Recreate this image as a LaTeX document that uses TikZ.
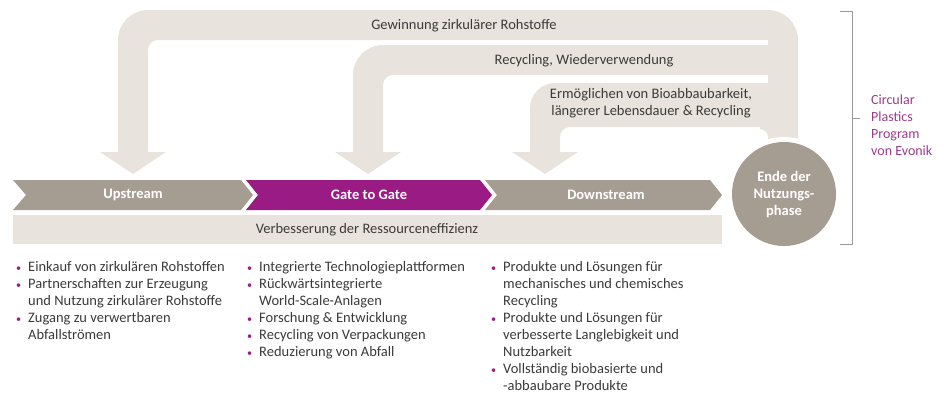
\documentclass[tikz,border=0pt]{standalone}
\usepackage{fontspec}
\setmainfont{Carlito}
\definecolor{beige}{HTML}{E8E4DD}
\definecolor{taupe}{HTML}{A69D92}
\definecolor{evpurple}{HTML}{9A1B83}
\definecolor{txt}{HTML}{3A3A3A}
\definecolor{ptxt}{HTML}{9A3A8C}
\definecolor{brk}{HTML}{9A9A9A}
\newcommand{\bl}{\makebox[12pt][l]{\textcolor{evpurple}{\raisebox{0.5pt}{\scalebox{0.7}{\textbullet}}}}}
\newcommand{\ind}{\makebox[12pt][l]{}}
\begin{document}
\begin{tikzpicture}[x=1pt,y=-1pt,
  band/.style={fill=beige},
  chev/.style={fill=taupe},
  chevlab/.style={text=white,font=\fontsize{14.5}{17}\selectfont\bfseries,anchor=center},
  lab/.style={text=txt,font=\fontsize{14.5}{16}\selectfont,anchor=center},
  list/.style={text=txt,font=\fontsize{14.5}{17}\selectfont,anchor=base west,inner sep=0pt},
]
\useasboundingbox (0,0) rectangle (944,402);
% outer band
\fill[band] (118,156) -- (118,40) arc[start angle=180,end angle=270,radius=30] -- (768,10)
  arc[start angle=270,end angle=360,radius=30] -- (798,172) -- (768,172) -- (768,40)
  -- (158,40) arc[start angle=270,end angle=180,radius=10] -- (148,156) -- cycle;
\fill[band] (100,152) -- (166,152) -- (133,174) -- cycle;
% middle band
\fill[band] (353,156) -- (353,75) arc[start angle=180,end angle=270,radius=30] -- (770,45)
  -- (770,75) -- (393,75) arc[start angle=270,end angle=180,radius=10] -- (383,156) -- cycle;
\fill[band] (335,152) -- (401,152) -- (368,174) -- cycle;
% inner band
\fill[band] (530,156) -- (530,108) arc[start angle=180,end angle=270,radius=25] -- (770,83)
  -- (770,127) -- (570,127) arc[start angle=270,end angle=180,radius=10] -- (560,156) -- cycle;
\fill[band] (512,152) -- (578,152) -- (545,174) -- cycle;
\fill[band] (760,127) -- (770,127) -- (770,137) -- (768,137) arc[start angle=0,end angle=-90,radius=8] -- cycle;
% end circle
\fill[white] (784,194) circle[radius=57];
\node[circle,fill=taupe,minimum size=104pt,inner sep=0pt] (ende) at (784,194) {};
\node[chevlab,align=center] (endelab) at (784,195) {Ende der\\Nutzungs-\\phase};
% chevrons
\fill[chev] (13,180) -- (241,180) -- (253,195) -- (241,210) -- (13,210) -- (26,195) -- cycle;
\fill[evpurple] (246,180) -- (480,180) -- (492,195) -- (480,210) -- (246,210) -- (258,195) -- cycle;
\fill[chev] (485,180) -- (710,180) -- (722,195) -- (710,210) -- (485,210) -- (497,195) -- cycle;
\node[chevlab] (up) at (133,195) {Upstream};
\node[chevlab] (gate) at (369,195) {Gate to Gate};
\node[chevlab] (down) at (606,195) {Downstream};
% efficiency bar
\fill[band] (13,215) rectangle (722,244);
\node[lab] (eff) at (367,229.5) {Verbesserung der Ressourceneffizienz};
% band labels
\node[lab] (gew) at (464,25.5) {Gewinnung zirkulärer Rohstoffe};
\node[lab] (rec) at (584,60.5) {Recycling, Wiederverwendung};
\node[lab,align=center,font=\fontsize{14.5}{16.5}\selectfont] (erm) at (651,103) {Ermöglichen von Bioabbaubarkeit,\\längerer Lebensdauer \& Recycling};
% bracket
\draw[brk,line width=0.8pt] (840,11) -- (852,11) -- (852,244) -- (840,244);
\draw[brk,line width=0.8pt] (852,118) -- (860,118);
\node[text=ptxt,font=\fontsize{14}{17}\selectfont,anchor=north west,align=left,inner sep=0pt] (cpp) at (871,95) {Circular\\Plastics\\Program\\von Evonik};
% lists
\node[list] (l1) at (16,271.5) {\begin{tabular}[t]{@{}l@{}}
\bl Einkauf von zirkulären Rohstoffen\\
\bl Partnerschaften zur Erzeugung\\
\ind und Nutzung zirkulärer Rohstoffe\\
\bl Zugang zu verwertbaren\\
\ind Abfallströmen\end{tabular}};
\node[list] (l2) at (247,271.5) {\begin{tabular}[t]{@{}l@{}}
\bl Integrierte Technologieplattformen\\
\bl Rückwärtsintegrierte\\
\ind World-Scale-Anlagen\\
\bl Forschung \& Entwicklung\\
\bl Recycling von Verpackungen\\
\bl Reduzierung von Abfall\end{tabular}};
\node[list] (l3) at (491,271.5) {\begin{tabular}[t]{@{}l@{}}
\bl Produkte und Lösungen für\\
\ind mechanisches und chemisches\\
\ind Recycling\\
\bl Produkte und Lösungen für\\
\ind verbesserte Langlebigkeit und\\
\ind Nutzbarkeit\\
\bl Vollständig biobasierte und\\
\ind -abbaubare Produkte\end{tabular}};
\end{tikzpicture}
\end{document}
